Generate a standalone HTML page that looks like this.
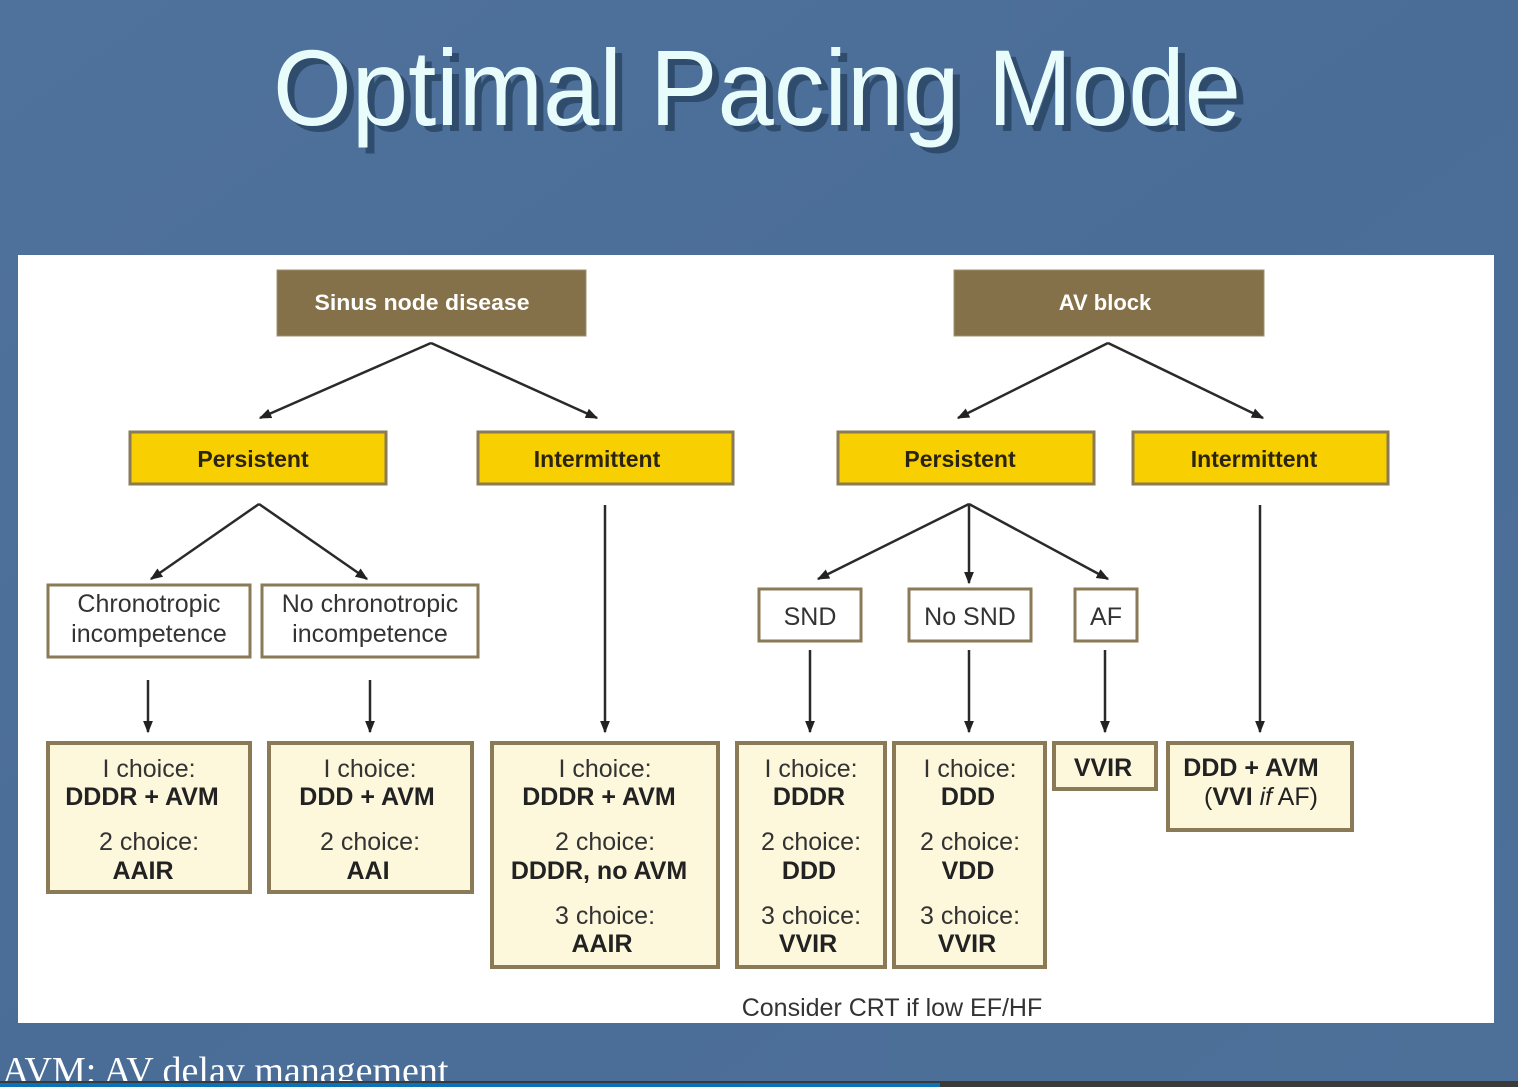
<!DOCTYPE html>
<html><head><meta charset="utf-8"><style>
html,body{margin:0;padding:0;width:1518px;height:1087px;overflow:hidden;background:#4c6f98;}
svg{display:block}
</style></head><body>
<svg width="1518" height="1087" viewBox="0 0 1518 1087" xmlns="http://www.w3.org/2000/svg" font-family="Liberation Sans, sans-serif">
<defs>
<linearGradient id="bg" x1="0" y1="0" x2="1" y2="1">
<stop offset="0" stop-color="#4f729c"/><stop offset="0.5" stop-color="#4a6d97"/><stop offset="1" stop-color="#4d7099"/>
</linearGradient>
<marker id="ah" viewBox="0 0 10 10" refX="9" refY="5" markerWidth="5" markerHeight="5" orient="auto"><path d="M0,1 L10,5 L0,9 z" fill="#222"/></marker>
</defs>
<rect width="1518" height="1087" fill="url(#bg)"/>
<text x="760" y="127" font-size="108" fill="#1d3550" text-anchor="middle" textLength="968" lengthAdjust="spacingAndGlyphs" transform="translate(4,4)" opacity="0.6">Optimal Pacing Mode</text>
<text x="757" y="125" font-size="108" fill="#e9fcfc" text-anchor="middle" textLength="968" lengthAdjust="spacingAndGlyphs">Optimal Pacing Mode</text>

<rect x="18" y="255" width="1476" height="768" fill="#fff"/>

<g fill="#857149" stroke="#a09070" stroke-width="1">
<rect x="277" y="270" width="309" height="66"/>
<rect x="954" y="270" width="310" height="66"/>
</g>
<g font-weight="bold" font-size="22" fill="#fff" text-anchor="middle">
<text x="422" y="310" textLength="215" lengthAdjust="spacingAndGlyphs">Sinus node disease</text>
<text x="1105" y="310">AV block</text>
</g>

<g fill="#f8cf00" stroke="#8a7a55" stroke-width="3">
<rect x="130" y="432" width="256" height="52"/>
<rect x="478" y="432" width="255" height="52"/>
<rect x="838" y="432" width="256" height="52"/>
<rect x="1133" y="432" width="255" height="52"/>
</g>
<g font-weight="bold" font-size="23" fill="#2a2410" text-anchor="middle">
<text x="253" y="467">Persistent</text>
<text x="597" y="467">Intermittent</text>
<text x="960" y="467">Persistent</text>
<text x="1254" y="467">Intermittent</text>
</g>

<g fill="#fff" stroke="#8a7a55" stroke-width="3">
<rect x="48" y="585" width="202" height="72"/>
<rect x="262" y="585" width="216" height="72"/>
<rect x="759" y="589" width="102" height="52"/>
<rect x="909" y="589" width="122" height="52"/>
<rect x="1075" y="589" width="62" height="52"/>
</g>
<g font-size="25" fill="#333" text-anchor="middle">
<text x="149" y="612">Chronotropic</text>
<text x="149" y="642">incompetence</text>
<text x="370" y="612">No chronotropic</text>
<text x="370" y="642">incompetence</text>
<text x="810" y="625">SND</text>
<text x="970" y="625">No SND</text>
<text x="1106" y="625">AF</text>
</g>

<g fill="#fdf8dc" stroke="#8a7a55" stroke-width="4">
<rect x="48" y="743" width="202" height="149"/>
<rect x="269" y="743" width="203" height="149"/>
<rect x="492" y="743" width="226" height="224"/>
<rect x="737" y="743" width="148" height="224"/>
<rect x="894" y="743" width="151" height="224"/>
<rect x="1054" y="743" width="102" height="46"/>
<rect x="1168" y="743" width="184" height="87"/>
</g>
<g font-size="25" fill="#333" text-anchor="middle">
<text x="149" y="777">I choice:</text>
<text x="149" y="850">2 choice:</text>
<text x="370" y="777">I choice:</text>
<text x="370" y="850">2 choice:</text>
<text x="605" y="777">I choice:</text>
<text x="605" y="850">2 choice:</text>
<text x="605" y="924">3 choice:</text>
<text x="811" y="777">I choice:</text>
<text x="811" y="850">2 choice:</text>
<text x="811" y="924">3 choice:</text>
<text x="970" y="777">I choice:</text>
<text x="970" y="850">2 choice:</text>
<text x="970" y="924">3 choice:</text>
</g>
<g font-size="25" font-weight="bold" fill="#222" text-anchor="middle">
<text x="142" y="805">DDDR + AVM</text>
<text x="143" y="879">AAIR</text>
<text x="367" y="805">DDD + AVM</text>
<text x="368" y="879">AAI</text>
<text x="599" y="805">DDDR + AVM</text>
<text x="599" y="879">DDDR, no AVM</text>
<text x="602" y="952">AAIR</text>
<text x="809" y="805">DDDR</text>
<text x="809" y="879">DDD</text>
<text x="808" y="952">VVIR</text>
<text x="968" y="805">DDD</text>
<text x="968" y="879">VDD</text>
<text x="967" y="952">VVIR</text>
<text x="1103" y="776">VVIR</text>
<text x="1251" y="776">DDD + AVM</text>
<text x="1261" y="805" font-weight="normal">(<tspan font-weight="bold">VVI</tspan> <tspan font-style="italic">if</tspan> AF)</text>
</g>

<text x="892" y="1016" font-size="25" fill="#333" text-anchor="middle">Consider CRT if low EF/HF</text>

<g stroke="#2a2a2a" stroke-width="2.5" fill="none" marker-end="url(#ah)">
<path d="M431,343 L260,418"/>
<path d="M431,343 L597,418"/>
<path d="M1108,343 L958,418"/>
<path d="M1108,343 L1263,418"/>
<path d="M259,504 L151,579"/>
<path d="M259,504 L367,579"/>
<path d="M969,504 L818,579"/>
<path d="M969,504 L969,583"/>
<path d="M969,504 L1108,579"/>
<path d="M605,505 L605,732"/>
<path d="M1260,505 L1260,732"/>
<path d="M148,680 L148,732"/>
<path d="M370,680 L370,732"/>
<path d="M810,650 L810,732"/>
<path d="M969,650 L969,732"/>
<path d="M1105,650 L1105,732"/>
</g>

<text x="2" y="1083" font-family="Liberation Serif, serif" font-size="38" fill="#fff">AVM: AV delay management</text>
<rect x="0" y="1081" width="1518" height="6" fill="#3a3a3a"/>
<rect x="0" y="1083" width="940" height="4" fill="#0a72b8"/>
</svg>
</body></html>
